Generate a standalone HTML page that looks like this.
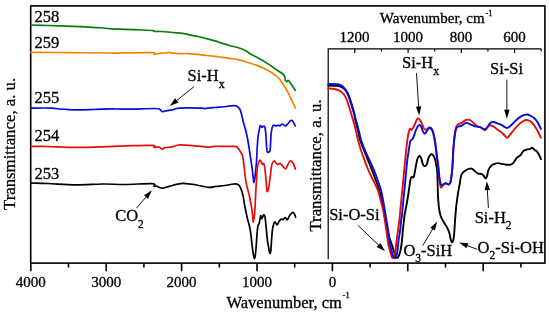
<!DOCTYPE html>
<html><head><meta charset="utf-8"><style>
html,body{margin:0;padding:0;background:#fff;overflow:hidden;}
svg{display:block;}
text{font-family:"Liberation Serif",serif;fill:#000;stroke:#000;stroke-width:0.3px;}
</style></head><body>
<svg width="550" height="314" viewBox="0 0 550 314">
<g stroke="#000" stroke-width="1.6" fill="none">
<rect x="30.7" y="5.9" width="514.2" height="257.2"/>
<path d="M30.8,263.1 V271.2 M106.2,263.1 V271.2 M181.6,263.1 V271.2 M257.0,263.1 V271.2 M332.4,263.1 V271.2 M407.8,263.1 V271.2 M483.2,263.1 V271.2 M68.5,263.1 V267.4 M143.9,263.1 V267.4 M219.3,263.1 V267.4 M294.7,263.1 V267.4 M370.1,263.1 V267.4 M445.5,263.1 V267.4 M520.9,263.1 V267.4 "/>
</g>
<g font-size="15" text-anchor="middle">
<text x="30.8" y="287.3">4000</text>
<text x="106.2" y="287.3">3000</text>
<text x="181.6" y="287.3">2000</text>
<text x="257" y="287.3">1000</text>
<text x="332.4" y="287.3">0</text>
</g>
<text x="226.5" y="307.6" font-size="16.5">Wavenumber, cm<tspan dx="0.8" dy="-9.7" font-size="8.5">-1</tspan></text>
<text transform="translate(14.8,210) rotate(-90)" font-size="16.8">Transmittance, a. u.</text>
<g font-size="16.5">
<text x="34.4" y="21.8">258</text>
<text x="34.4" y="48.3">259</text>
<text x="34.4" y="102.8">255</text>
<text x="34.4" y="141">254</text>
<text x="34.4" y="179.2">253</text>
<text x="187.6" y="81.4">Si-H<tspan font-size="12" dy="7">x</tspan></text>
<text x="115.2" y="221.2">CO<tspan font-size="11.5" dy="6.3">2</tspan></text>
</g>
<g fill="none" stroke-width="1.7" stroke-linejoin="round" stroke-linecap="round">
<path stroke="#0a7c0e" d="M31.0,25.0 C33.9,25.1 42.3,25.3 48.2,25.5 C54.1,25.7 60.4,26.0 66.4,26.2 C72.5,26.4 78.5,26.6 84.5,26.9 C90.5,27.2 98.2,27.7 102.7,28.0 C107.2,28.3 108.1,28.7 111.8,28.9 C115.5,29.1 119.8,29.1 125.0,29.3 C130.2,29.5 138.5,29.8 143.2,30.0 C147.9,30.2 151.1,30.4 153.0,30.6 C154.9,30.9 153.1,31.4 154.5,31.5 C155.9,31.6 157.5,31.3 161.4,31.5 C165.3,31.7 173.8,32.5 177.7,32.9 C181.6,33.3 181.7,33.2 185.0,33.8 C188.3,34.4 194.1,35.7 197.7,36.5 C201.3,37.3 203.8,37.9 206.8,38.7 C209.8,39.5 213.7,40.5 215.9,41.1 C218.1,41.8 217.7,41.9 220.0,42.6 C222.3,43.3 226.3,44.6 229.5,45.5 C232.7,46.4 236.2,47.0 239.1,48.0 C242.0,49.0 244.8,50.2 246.7,51.2 C248.6,52.2 248.6,53.0 250.5,54.1 C252.4,55.2 255.3,56.3 258.2,57.9 C261.1,59.5 264.5,61.5 267.7,63.6 C270.9,65.7 274.6,68.4 277.3,70.3 C280.0,72.2 282.6,73.4 284.0,75.1 C285.4,76.8 285.0,79.4 285.5,80.5 C286.0,81.6 286.3,81.8 286.8,81.8 C287.3,81.8 287.3,79.4 288.7,80.8 C290.1,82.2 294.3,88.8 295.4,90.4"/>
<path stroke="#f28208" d="M31.0,52.4 C37.5,52.4 56.8,52.5 70.0,52.6 C83.2,52.7 102.8,52.9 110.0,53.0 C117.2,53.1 110.5,53.3 113.0,53.3 C115.5,53.3 118.5,52.9 125.0,52.8 C131.6,52.7 147.5,52.5 152.3,52.7 C157.2,53.0 153.5,54.1 154.1,54.3 C154.7,54.5 154.1,54.0 155.9,53.8 C157.7,53.6 162.7,53.2 165.0,53.0 C167.3,52.8 168.3,52.4 169.5,52.4 C170.7,52.4 170.3,53.0 172.0,53.2 C173.7,53.4 176.7,53.5 179.5,53.6 C182.3,53.7 184.0,53.3 188.6,53.6 C193.2,53.9 201.6,54.9 206.8,55.5 C212.0,56.1 216.2,56.5 220.0,57.0 C223.8,57.5 226.3,57.8 229.5,58.3 C232.7,58.8 235.9,59.1 239.1,59.8 C242.3,60.5 245.4,61.7 248.6,62.7 C251.8,63.7 255.0,64.6 258.2,65.9 C261.4,67.2 264.5,68.5 267.7,70.3 C270.9,72.1 274.8,74.6 277.3,76.8 C279.8,79.0 281.0,81.1 282.7,83.6 C284.4,86.1 286.2,89.2 287.5,91.6 C288.8,94.0 289.8,96.1 290.7,98.0 C291.6,99.9 292.2,101.2 293.0,102.8 C293.8,104.4 294.9,107.0 295.3,107.8"/>
<path stroke="#0a0ade" d="M31.0,108.1 C34.5,108.1 47.1,107.9 51.8,108.1 C56.5,108.2 55.1,108.7 59.1,109.0 C63.1,109.3 69.8,109.8 75.5,109.9 C81.2,110.0 87.5,109.7 93.6,109.5 C99.6,109.3 106.6,108.8 111.8,108.8 C117.0,108.8 118.0,109.2 125.0,109.2 C132.1,109.2 148.3,108.5 154.1,108.5 C159.8,108.5 158.1,108.7 159.5,109.2 C160.9,109.7 161.4,111.4 162.3,111.7 C163.2,112.0 163.3,111.3 165.0,111.0 C166.7,110.7 169.9,110.4 172.3,109.9 C174.7,109.4 174.7,108.4 179.5,108.1 C184.3,107.8 197.2,108.0 201.4,108.1 C205.7,108.2 203.2,108.7 205.0,108.6 C206.8,108.5 209.9,107.9 212.3,107.7 C214.7,107.5 215.7,107.5 219.3,107.2 C222.9,106.9 230.7,105.9 233.7,105.7 C236.7,105.5 236.1,105.8 237.1,106.3 C238.1,106.8 238.8,107.7 239.4,108.5 C240.0,109.3 240.2,109.8 240.6,111.0 C241.0,112.2 241.4,113.7 241.8,115.5 C242.2,117.3 242.7,119.7 243.3,122.0 C243.9,124.3 244.8,127.0 245.5,129.5 C246.2,132.0 246.6,134.2 247.2,137.0 C247.8,139.8 248.3,143.0 248.8,146.0 C249.3,149.0 249.7,152.2 250.1,155.0 C250.5,157.8 251.0,160.2 251.4,163.0 C251.8,165.8 252.3,169.5 252.6,172.0 C252.9,174.5 253.1,176.2 253.3,178.0 C253.5,179.8 253.5,182.7 253.8,182.7 C254.1,182.7 254.6,180.1 254.9,178.0 C255.2,175.9 255.4,172.7 255.7,170.0 C256.0,167.3 256.2,165.8 256.5,161.8 C256.8,157.8 257.0,150.1 257.3,145.9 C257.6,141.7 257.8,138.8 258.1,136.4 C258.4,134.0 258.5,133.4 258.9,131.6 C259.3,129.8 259.8,126.3 260.3,125.6 C260.8,124.9 261.4,127.3 262.0,127.4 C262.6,127.5 263.3,126.0 263.8,126.0 C264.3,126.0 264.7,126.2 265.0,127.5 C265.3,128.8 265.5,130.7 265.8,133.9 C266.1,137.1 266.3,143.6 266.6,146.6 C266.9,149.6 267.0,151.3 267.4,152.2 C267.8,153.0 268.6,152.1 269.0,151.7 C269.4,151.3 269.8,152.8 270.1,149.8 C270.5,146.8 270.8,137.6 271.1,133.9 C271.5,130.2 271.8,129.0 272.2,127.5 C272.6,126.0 273.1,125.4 273.8,125.1 C274.5,124.8 275.3,125.9 276.1,125.9 C276.9,125.9 277.8,125.1 278.5,125.1 C279.2,125.1 279.6,126.1 280.1,125.9 C280.6,125.7 281.0,124.1 281.7,124.0 C282.4,123.9 283.4,124.8 284.1,125.1 C284.8,125.4 285.0,126.2 285.7,125.9 C286.4,125.6 287.3,124.3 288.1,123.5 C288.9,122.7 289.8,121.3 290.5,120.8 C291.2,120.3 291.6,120.1 292.1,120.4 C292.6,120.7 293.2,121.8 293.7,122.7 C294.2,123.6 295.0,125.4 295.3,125.9"/>
<path stroke="#e60c0c" d="M31.0,146.5 C33.9,146.5 40.8,146.3 48.2,146.5 C55.6,146.7 66.4,147.3 75.5,147.4 C84.6,147.5 94.5,147.1 102.7,146.8 C111.0,146.6 116.7,146.1 125.0,145.9 C133.3,145.7 147.5,145.2 152.3,145.4 C157.2,145.7 153.1,147.2 154.1,147.4 C155.1,147.6 157.2,146.5 158.6,146.8 C160.0,147.1 161.2,149.0 162.3,149.2 C163.4,149.3 163.3,148.1 165.0,147.7 C166.7,147.3 170.0,147.2 172.3,146.8 C174.6,146.4 175.9,145.2 178.6,145.0 C181.3,144.8 184.8,145.2 188.6,145.4 C192.4,145.6 198.1,146.0 201.4,146.3 C204.7,146.6 206.5,147.2 208.6,147.2 C210.7,147.2 211.4,146.5 214.1,146.3 C216.8,146.2 221.7,146.3 225.0,146.3 C228.3,146.3 231.8,146.4 233.7,146.4 C235.6,146.4 235.9,146.3 236.6,146.6 C237.3,146.9 237.3,147.3 238.0,148.2 C238.7,149.1 239.8,150.4 240.6,152.0 C241.4,153.6 242.1,152.9 243.0,158.0 C243.9,163.1 245.0,176.4 246.1,182.7 C247.2,188.9 248.4,191.2 249.3,195.5 C250.2,199.8 251.1,204.5 251.7,208.2 C252.3,211.9 252.5,215.5 252.8,217.8 C253.1,220.1 253.1,222.0 253.3,221.9 C253.5,221.8 253.9,219.0 254.2,217.0 C254.5,215.0 254.7,213.7 254.9,209.8 C255.2,206.0 255.4,198.9 255.7,193.9 C256.0,188.9 256.2,183.9 256.5,179.6 C256.8,175.3 256.9,171.2 257.3,168.2 C257.7,165.2 258.4,163.1 258.9,161.8 C259.4,160.5 260.0,159.9 260.5,160.3 C261.0,160.7 261.6,163.7 262.1,164.2 C262.6,164.7 262.9,163.1 263.3,163.4 C263.7,163.7 264.1,163.5 264.5,165.8 C264.9,168.1 265.4,173.0 265.8,177.1 C266.2,181.2 266.5,188.3 266.9,190.5 C267.3,192.7 267.8,191.1 268.2,190.0 C268.6,188.9 268.8,186.7 269.2,184.0 C269.6,181.3 270.2,177.1 270.6,173.9 C271.0,170.8 271.2,167.2 271.7,165.1 C272.2,163.0 273.2,161.6 273.8,161.1 C274.4,160.6 274.8,161.4 275.3,161.9 C275.8,162.4 276.4,163.6 276.9,164.0 C277.4,164.4 278.0,164.4 278.5,164.3 C279.0,164.2 279.4,163.2 280.1,163.5 C280.8,163.8 281.6,165.0 282.5,165.9 C283.4,166.8 284.6,168.8 285.4,168.8 C286.2,168.8 286.6,167.1 287.3,165.9 C288.0,164.7 289.0,162.3 289.7,161.5 C290.4,160.7 290.7,160.8 291.3,161.1 C291.9,161.4 292.6,162.2 293.3,163.5 C294.0,164.8 295.0,168.2 295.3,169.1"/>
<path stroke="#000" d="M31.0,183.1 C33.9,183.2 40.8,183.2 48.2,183.5 C55.6,183.8 66.4,184.8 75.5,184.9 C84.6,185.0 94.5,184.1 102.7,184.0 C111.0,183.9 116.7,184.6 125.0,184.5 C133.3,184.4 147.5,183.3 152.3,183.6 C157.2,183.9 153.3,186.0 154.1,186.4 C154.8,186.8 156.1,185.8 156.8,186.0 C157.6,186.2 157.5,186.9 158.6,187.3 C159.7,187.7 162.0,188.2 163.2,188.2 C164.4,188.2 164.4,187.8 165.9,187.3 C167.4,186.9 170.3,186.0 172.3,185.5 C174.3,185.0 175.9,184.6 177.7,184.2 C179.5,183.8 180.5,183.2 183.2,183.3 C185.9,183.4 189.9,183.8 194.1,184.5 C198.3,185.2 205.0,187.0 208.6,187.3 C212.2,187.6 213.2,186.7 215.9,186.4 C218.6,186.1 222.0,185.9 225.0,185.5 C228.0,185.1 231.5,184.2 233.7,184.0 C235.9,183.8 236.8,183.9 238.0,184.6 C239.2,185.3 240.0,186.5 240.8,188.3 C241.6,190.1 242.4,192.7 243.0,195.5 C243.6,198.3 243.9,201.6 244.6,205.0 C245.2,208.4 246.4,213.8 246.9,216.2 C247.4,218.6 247.2,217.4 247.7,219.6 C248.2,221.8 249.4,225.4 250.1,229.1 C250.8,232.8 251.2,237.6 251.7,241.8 C252.2,246.1 252.9,251.8 253.3,254.6 C253.8,257.4 254.1,258.6 254.4,258.6 C254.8,258.6 255.1,257.4 255.4,254.6 C255.8,251.8 256.2,245.8 256.5,241.8 C256.8,237.8 257.0,233.5 257.3,230.7 C257.6,227.9 257.8,226.3 258.1,225.1 C258.4,223.9 258.9,224.7 259.2,223.5 C259.5,222.3 259.9,219.3 260.2,218.0 C260.5,216.7 260.5,215.5 260.8,215.6 C261.1,215.7 261.5,218.7 261.8,218.8 C262.1,218.9 262.6,217.1 262.9,216.4 C263.2,215.7 263.4,214.8 263.7,214.8 C264.0,214.8 264.5,214.6 264.9,216.4 C265.3,218.2 265.6,221.7 266.0,225.9 C266.4,230.1 267.2,238.5 267.6,241.8 C268.0,245.2 268.1,244.2 268.4,246.0 C268.7,247.8 269.2,251.7 269.6,252.6 C270.0,253.5 270.4,254.0 270.7,251.6 C271.0,249.2 271.4,242.0 271.7,238.2 C272.0,234.4 272.2,231.3 272.6,228.7 C273.0,226.1 273.8,223.7 274.2,222.6 C274.6,221.5 274.8,221.8 275.3,222.2 C275.8,222.6 276.5,225.0 277.2,224.8 C277.9,224.6 278.6,221.9 279.3,221.0 C280.0,220.1 280.6,219.3 281.2,219.1 C281.8,218.8 282.5,219.8 283.2,219.5 C283.9,219.2 284.6,217.5 285.3,217.6 C286.0,217.7 286.6,220.2 287.4,219.8 C288.1,219.4 288.9,216.5 289.8,215.3 C290.7,214.1 291.9,212.6 292.7,212.4 C293.5,212.2 294.1,213.5 294.6,214.3 C295.1,215.1 295.4,216.7 295.6,217.2"/>
</g>
<!-- arrows main -->
<line x1="194.0" y1="86.7" x2="176.0" y2="101.0" stroke="#111" stroke-width="1.0"/><polygon points="169.7,106.0 175.1,98.3 178.4,102.5" fill="#000"/><line x1="136.4" y1="208.2" x2="146.7" y2="196.3" stroke="#111" stroke-width="1.0"/><polygon points="151.9,190.2 148.1,198.8 144.0,195.3" fill="#000"/>
<!-- inset -->
<rect x="328.2" y="48.6" width="213.3" height="210.8" fill="#fff"/>
<g stroke="#000" stroke-width="1.2" fill="none">
<path d="M328.2,259.2 V48.9 H541.3"/>
<path d="M354.8,48.9 V52.9 M381.4,48.9 V51.4 M408.1,48.9 V52.9 M434.7,48.9 V51.4 M461.3,48.9 V52.9 M487.9,48.9 V51.4 M514.6,48.9 V52.9 M541.2,48.9 V51.4 "/>
</g>
<g font-size="15" text-anchor="middle">
<text x="354.6" y="42.2">1200</text>
<text x="408" y="42.2">1000</text>
<text x="461.1" y="42.2">800</text>
<text x="514.6" y="42.2">600</text>
</g>
<text x="379.8" y="22.9" font-size="15">Wavenumber, cm<tspan dx="0.8" dy="-7" font-size="8.5">-1</tspan></text>
<text transform="translate(320.8,231.6) rotate(-90)" font-size="16.8">Transmittance, a. u.</text>
<g fill="none" stroke-width="1.9" stroke-linejoin="round" stroke-linecap="round">
<path stroke="#000" d="M328.3,85.6 C329.6,85.6 334.3,85.6 336.4,85.8 C338.5,86.0 339.6,86.2 341.0,86.8 C342.4,87.4 343.8,88.3 345.0,89.5 C346.2,90.7 347.2,92.5 348.0,94.0 C348.8,95.5 349.1,96.5 349.8,98.5 C350.5,100.5 351.4,103.4 352.2,106.0 C352.9,108.6 353.8,111.7 354.3,114.0 C354.8,116.3 354.7,117.3 355.3,120.0 C355.9,122.7 357.0,126.7 357.8,130.0 C358.6,133.3 359.1,136.7 360.1,140.0 C361.1,143.3 362.6,146.7 363.9,150.0 C365.2,153.3 366.6,156.7 367.9,160.0 C369.2,163.3 370.6,166.7 371.9,170.0 C373.2,173.3 374.5,176.7 375.7,180.0 C376.9,183.3 378.2,186.7 379.2,190.0 C380.2,193.3 380.9,196.7 381.6,200.0 C382.3,203.3 382.9,206.7 383.5,210.0 C384.1,213.3 384.8,216.7 385.4,220.0 C386.0,223.3 386.6,227.0 387.3,230.0 C388.0,233.0 388.8,235.7 389.5,238.0 C390.2,240.3 390.9,242.0 391.6,244.0 C392.3,246.0 392.9,248.2 393.5,250.0 C394.1,251.8 394.4,253.2 395.0,254.5 C395.6,255.8 396.2,257.5 396.8,257.8 C397.4,258.1 398.0,257.4 398.5,256.5 C399.0,255.6 399.5,254.2 400.0,252.5 C400.5,250.8 400.9,248.4 401.3,246.0 C401.7,243.6 401.9,240.7 402.2,238.0 C402.5,235.3 402.6,232.7 402.9,230.0 C403.2,227.3 403.5,224.5 403.8,222.0 C404.1,219.5 404.2,217.8 404.6,215.0 C405.1,212.2 405.9,208.3 406.5,205.0 C407.1,201.7 407.7,198.2 408.2,195.0 C408.7,191.8 409.1,188.7 409.5,186.0 C409.9,183.3 410.2,180.5 410.6,179.0 C411.0,177.5 411.2,177.0 411.6,176.8 C412.0,176.6 412.4,177.7 412.8,177.6 C413.2,177.5 413.5,177.9 413.9,176.5 C414.3,175.1 414.8,171.9 415.3,169.1 C415.9,166.3 416.6,161.8 417.2,159.6 C417.8,157.4 418.5,156.4 419.1,156.1 C419.7,155.8 420.4,156.2 421.0,157.6 C421.6,159.0 422.3,162.9 422.9,164.3 C423.5,165.7 424.1,166.2 424.8,166.2 C425.5,166.2 426.2,165.7 426.8,164.3 C427.4,162.9 427.9,159.3 428.7,157.6 C429.5,155.9 430.7,154.5 431.5,154.2 C432.3,153.9 432.8,154.6 433.4,155.7 C434.0,156.8 434.8,157.6 435.4,160.5 C436.0,163.4 436.9,167.4 437.3,172.9 C437.7,178.4 437.6,187.8 437.9,193.4 C438.1,199.0 438.4,203.0 438.8,206.7 C439.2,210.4 439.8,213.1 440.6,215.7 C441.5,218.3 442.8,220.4 443.9,222.4 C445.0,224.4 446.4,226.1 447.3,227.9 C448.2,229.8 448.9,231.6 449.5,233.5 C450.1,235.4 450.2,237.7 450.6,239.1 C451.0,240.5 451.3,241.6 451.7,242.0 C452.1,242.4 452.5,242.4 452.9,241.3 C453.3,240.2 453.6,239.2 454.0,235.7 C454.4,232.2 454.7,224.9 455.1,220.1 C455.5,215.3 455.7,211.1 456.2,206.7 C456.7,202.2 457.4,197.1 458.0,193.4 C458.6,189.7 459.0,187.7 459.6,184.5 C460.2,181.3 460.5,176.9 461.5,174.5 C462.5,172.1 464.4,171.2 465.8,170.2 C467.2,169.2 469.0,168.8 470.1,168.6 C471.2,168.4 471.5,168.5 472.4,169.0 C473.3,169.5 474.5,171.0 475.6,171.8 C476.7,172.6 477.9,173.5 478.8,173.8 C479.7,174.1 480.4,173.6 481.1,173.8 C481.8,174.0 482.4,174.4 483.2,175.2 C484.0,176.0 485.1,178.4 485.8,178.4 C486.5,178.4 486.9,176.5 487.3,175.2 C487.7,173.8 487.7,171.8 488.3,170.3 C488.9,168.8 489.8,167.3 490.7,166.3 C491.6,165.3 492.7,164.7 493.9,164.2 C495.1,163.7 496.6,163.1 497.9,163.1 C499.2,163.1 500.4,163.6 501.8,163.9 C503.2,164.2 505.1,164.6 506.6,164.7 C508.1,164.8 509.4,165.1 510.6,164.7 C511.8,164.3 512.7,163.5 513.8,162.3 C514.9,161.1 516.1,158.6 517.0,157.5 C517.9,156.4 518.7,156.4 519.4,155.9 C520.1,155.4 520.4,155.4 521.0,154.6 C521.6,153.8 522.4,151.9 523.3,151.1 C524.2,150.3 525.3,150.0 526.5,149.6 C527.7,149.2 529.6,149.1 530.5,148.8 C531.4,148.5 531.4,147.4 532.1,147.6 C532.8,147.8 533.7,149.2 534.5,149.9 C535.3,150.6 536.2,150.8 536.9,151.5 C537.6,152.2 538.1,153.0 538.8,154.3 C539.5,155.6 540.5,158.3 540.9,159.1"/>
<path stroke="#e60c0c" d="M328.3,88.4 C329.1,88.5 331.6,88.7 333.0,88.9 C334.4,89.1 335.0,89.0 336.4,89.5 C337.8,90.0 340.2,91.1 341.5,92.0 C342.8,92.9 343.5,93.9 344.3,95.0 C345.1,96.1 345.5,96.8 346.2,98.5 C346.9,100.2 347.6,102.2 348.5,105.0 C349.4,107.8 350.9,112.5 351.6,115.0 C352.4,117.5 352.3,117.5 353.0,120.0 C353.7,122.5 355.0,126.7 355.8,130.0 C356.6,133.3 357.1,136.7 358.0,140.0 C358.9,143.3 359.8,146.7 360.9,150.0 C362.0,153.3 363.3,156.7 364.5,160.0 C365.7,163.3 366.9,166.7 368.3,170.0 C369.7,173.3 371.4,176.7 373.0,180.0 C374.6,183.3 376.5,186.7 377.8,190.0 C379.1,193.3 379.7,196.7 380.6,200.0 C381.5,203.3 382.4,206.7 383.1,210.0 C383.8,213.3 384.3,216.7 384.8,220.0 C385.3,223.3 385.7,226.0 386.3,230.0 C386.9,234.0 387.7,240.7 388.3,244.0 C388.9,247.3 389.4,248.2 389.8,250.0 C390.2,251.8 390.6,253.2 391.0,254.5 C391.4,255.8 391.8,257.1 392.2,257.6 C392.6,258.1 393.2,257.8 393.6,257.3 C394.0,256.8 394.5,255.7 394.8,254.5 C395.1,253.3 395.4,251.8 395.6,250.0 C395.8,248.2 396.0,246.0 396.2,244.0 C396.4,242.0 396.6,240.3 396.9,238.0 C397.2,235.7 397.7,233.0 398.1,230.0 C398.5,227.0 399.0,222.5 399.3,220.0 C399.6,217.5 399.6,218.3 399.9,215.0 C400.2,211.7 400.7,205.8 401.3,200.0 C401.9,194.2 402.7,186.7 403.3,180.0 C403.9,173.3 404.7,165.5 405.2,160.0 C405.7,154.5 406.0,151.4 406.5,147.0 C407.0,142.6 407.8,136.7 408.4,133.7 C409.0,130.7 409.3,129.6 409.9,128.9 C410.5,128.2 411.1,130.3 411.8,129.8 C412.5,129.3 413.2,127.8 414.1,126.0 C415.0,124.2 416.2,120.5 417.0,119.3 C417.8,118.1 418.3,118.5 418.9,118.8 C419.5,119.1 420.0,119.7 420.8,121.2 C421.6,122.7 422.9,126.5 423.7,127.9 C424.5,129.3 425.0,129.6 425.6,129.8 C426.2,130.0 426.9,129.3 427.5,128.9 C428.1,128.5 428.8,127.6 429.4,127.5 C430.0,127.4 430.7,127.4 431.3,128.3 C431.9,129.2 432.6,130.2 433.2,132.7 C433.8,135.2 434.5,138.9 435.1,143.2 C435.7,147.5 436.4,154.0 437.0,158.5 C437.6,163.0 438.0,166.4 438.4,170.0 C438.8,173.6 439.1,177.1 439.5,180.0 C439.9,182.9 440.3,186.6 440.9,187.4 C441.5,188.2 442.2,185.7 443.0,185.0 C443.8,184.3 444.9,183.6 445.8,183.5 C446.7,183.4 447.8,184.8 448.6,184.5 C449.4,184.2 450.0,184.6 450.6,181.7 C451.2,178.8 451.9,173.0 452.4,167.3 C452.9,161.6 453.0,153.4 453.5,147.3 C454.0,141.2 454.6,134.6 455.2,130.9 C455.8,127.2 456.1,126.5 457.2,125.2 C458.2,123.9 460.1,123.8 461.5,122.9 C462.9,122.0 464.4,120.5 465.8,120.0 C467.2,119.5 468.6,119.4 470.0,120.0 C471.4,120.6 473.0,122.4 474.1,123.4 C475.2,124.4 475.7,125.4 476.8,126.1 C477.9,126.8 479.5,126.8 480.9,127.5 C482.3,128.2 483.9,130.3 485.0,130.2 C486.1,130.1 486.8,127.6 487.7,126.8 C488.6,126.0 489.5,125.2 490.5,125.2 C491.5,125.2 492.8,126.1 493.9,126.8 C495.0,127.5 496.1,128.6 497.3,129.5 C498.6,130.4 500.1,131.3 501.4,132.3 C502.6,133.3 503.8,134.8 504.8,135.7 C505.8,136.6 506.5,138.0 507.5,137.7 C508.5,137.3 509.4,135.4 510.9,133.6 C512.4,131.8 514.6,128.7 516.4,126.8 C518.2,124.9 520.2,123.1 521.8,122.0 C523.4,120.9 524.6,120.2 525.9,120.0 C527.1,119.8 528.2,120.1 529.3,120.7 C530.4,121.3 531.5,121.9 532.7,123.4 C534.0,124.9 535.4,127.1 536.8,129.5 C538.2,131.9 540.2,136.3 540.9,137.7"/>
<path stroke="#0a0ade" d="M328.3,84.0 C329.6,84.0 334.1,84.1 336.0,84.2 C337.9,84.3 338.7,84.2 340.0,84.8 C341.3,85.4 342.8,86.3 344.0,87.6 C345.2,88.9 346.4,90.9 347.2,92.6 C348.0,94.2 348.3,95.4 349.0,97.5 C349.7,99.6 350.6,102.1 351.5,105.0 C352.4,107.9 353.9,112.5 354.6,115.0 C355.3,117.5 355.2,117.5 355.9,120.0 C356.6,122.5 357.7,126.7 358.6,130.0 C359.5,133.3 360.1,136.7 361.1,140.0 C362.2,143.3 363.5,146.7 364.9,150.0 C366.3,153.3 367.8,156.7 369.3,160.0 C370.8,163.3 372.6,166.7 374.0,170.0 C375.4,173.3 376.4,176.7 377.6,180.0 C378.8,183.3 380.1,186.7 381.0,190.0 C381.9,193.3 382.4,196.7 383.0,200.0 C383.6,203.3 384.2,206.7 384.8,210.0 C385.4,213.3 385.8,216.7 386.4,220.0 C386.9,223.3 387.5,226.0 388.1,230.0 C388.7,234.0 389.4,240.7 390.0,244.0 C390.6,247.3 390.9,248.2 391.4,250.0 C391.8,251.8 392.2,253.5 392.7,254.8 C393.2,256.1 393.7,257.5 394.2,257.9 C394.7,258.3 395.3,258.0 395.8,257.3 C396.3,256.6 396.7,255.1 397.0,253.5 C397.3,251.9 397.5,250.2 397.8,248.0 C398.1,245.8 398.2,243.0 398.6,240.0 C399.0,237.0 399.8,233.3 400.2,230.0 C400.6,226.7 400.9,222.5 401.2,220.0 C401.5,217.5 401.6,218.3 402.0,215.0 C402.4,211.7 402.8,205.8 403.4,200.0 C404.0,194.2 404.8,186.7 405.4,180.0 C406.0,173.3 406.8,164.5 407.3,160.0 C407.8,155.5 407.9,155.9 408.4,152.8 C408.9,149.7 409.7,143.5 410.3,141.3 C410.9,139.1 411.6,140.4 412.2,139.4 C412.8,138.4 413.5,137.2 414.1,135.6 C414.7,134.0 415.2,131.6 416.0,129.8 C416.8,128.1 418.1,125.7 418.9,125.1 C419.7,124.5 420.2,125.0 420.8,126.0 C421.4,127.0 422.1,129.5 422.7,130.8 C423.3,132.1 424.0,133.5 424.6,133.7 C425.2,133.9 425.8,132.8 426.5,131.8 C427.2,130.8 428.2,128.4 429.0,127.9 C429.8,127.4 430.6,128.1 431.3,128.9 C432.0,129.7 432.6,130.6 433.2,132.7 C433.8,134.8 434.5,137.3 435.1,141.3 C435.7,145.3 436.4,152.2 437.0,156.6 C437.6,161.0 438.2,164.3 438.6,168.0 C439.0,171.7 439.1,176.0 439.6,178.8 C440.1,181.7 440.5,184.4 441.5,185.1 C442.5,185.8 444.6,183.2 445.8,183.1 C447.0,183.0 447.8,184.7 448.6,184.5 C449.4,184.3 450.0,184.6 450.6,181.7 C451.2,178.8 451.9,173.0 452.4,167.3 C452.9,161.6 453.0,153.0 453.5,147.3 C454.0,141.6 454.6,136.2 455.2,132.9 C455.8,129.6 456.1,128.4 457.2,127.2 C458.2,126.0 460.1,126.5 461.5,125.8 C462.9,125.1 464.4,123.2 465.8,122.9 C467.2,122.7 468.7,123.8 470.1,124.3 C471.5,124.8 472.8,125.7 474.1,126.1 C475.5,126.5 477.1,126.6 478.2,126.8 C479.3,127.0 479.8,127.0 480.9,127.5 C482.0,128.0 483.9,129.6 485.0,129.5 C486.1,129.4 486.8,127.9 487.7,126.8 C488.6,125.7 489.5,123.5 490.5,122.7 C491.5,121.9 492.8,121.9 493.9,122.0 C495.0,122.1 496.1,122.9 497.3,123.4 C498.6,123.9 500.0,124.1 501.4,124.8 C502.8,125.5 504.5,127.0 505.5,127.5 C506.5,128.0 506.6,128.2 507.5,127.9 C508.4,127.6 509.4,126.8 510.9,125.5 C512.4,124.2 514.6,121.6 516.4,120.0 C518.2,118.4 520.0,116.8 521.8,115.9 C523.6,115.0 525.8,114.5 527.3,114.5 C528.8,114.5 529.6,115.3 530.7,115.9 C531.8,116.5 533.0,117.0 534.1,118.0 C535.2,119.0 536.4,120.2 537.5,122.0 C538.6,123.8 540.3,127.8 540.9,128.9"/>
</g>
<g font-size="16.5">
<text x="402" y="67.8">Si-H<tspan font-size="12" dy="6.8">x</tspan></text>
<text x="490" y="74.2">Si-Si</text>
<text x="329.2" y="220">Si-O-Si</text>
<text x="403.4" y="256.2">O<tspan font-size="11.5" dy="5.3">3</tspan><tspan dy="-5.3">-SiH</tspan></text>
<text x="474.7" y="222.8">Si-H<tspan font-size="11.5" dy="6.6">2</tspan></text>
<text x="477.6" y="252.8">O<tspan font-size="11.5" dy="5.8">2</tspan><tspan dy="-5.8">-Si-OH</tspan></text>
</g>
<line x1="416.5" y1="73.2" x2="418.7" y2="107.5" stroke="#111" stroke-width="1.0"/><polygon points="419.2,115.5 415.9,106.7 421.3,106.3" fill="#000"/><line x1="506.9" y1="79.8" x2="506.9" y2="110.8" stroke="#111" stroke-width="1.0"/><polygon points="506.9,118.8 504.2,109.8 509.6,109.8" fill="#000"/><line x1="357.8" y1="225.2" x2="379.2" y2="245.7" stroke="#111" stroke-width="1.0"/><polygon points="385.0,251.2 376.6,246.9 380.4,243.0" fill="#000"/><line x1="422.8" y1="245.5" x2="433.1" y2="228.3" stroke="#111" stroke-width="1.0"/><polygon points="437.2,221.4 434.9,230.5 430.3,227.7" fill="#000"/><line x1="488.4" y1="208.1" x2="487.3" y2="189.2" stroke="#111" stroke-width="1.0"/><polygon points="486.8,181.2 490.0,190.0 484.6,190.3" fill="#000"/><line x1="477.2" y1="249.3" x2="466.5" y2="245.4" stroke="#111" stroke-width="1.0"/><polygon points="459.0,242.6 468.4,243.2 466.5,248.2" fill="#000"/>
</svg>
</body></html>
